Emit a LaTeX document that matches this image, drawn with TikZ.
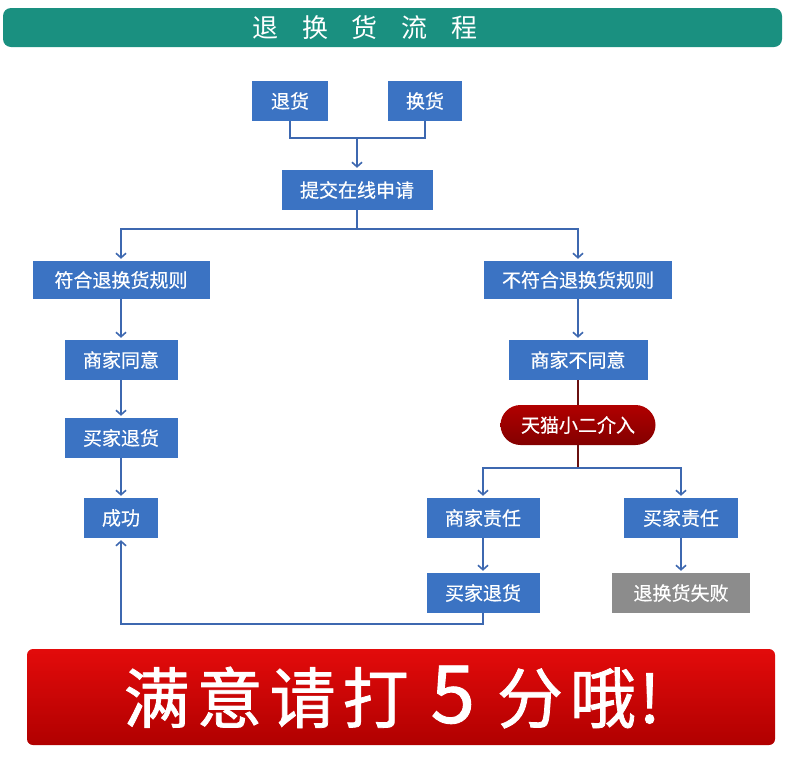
\documentclass[tikz,border=0pt]{standalone}
\usepackage{fontspec}
\setmainfont{Noto Sans CJK SC}
\newfontfamily\heavyfont[FakeBold=1.2]{Noto Sans CJK SC}
\newfontfamily\boxfont[FakeBold=0.5]{Noto Sans CJK SC}
\usepackage{xcolor}
\usepackage{tikz}
\usetikzlibrary{shapes,arrows.meta,positioning,calc}
\definecolor{boxblue}{HTML}{3B73C3}
\definecolor{lineblue}{HTML}{3D68B0}
\definecolor{teal}{HTML}{1A9080}
\definecolor{pillred}{HTML}{A30000}
\definecolor{darkline}{HTML}{6A1010}
\definecolor{failgray}{HTML}{8C8C8C}
\definecolor{bannertop}{HTML}{E30B0B}
\definecolor{bannerbottom}{HTML}{B00000}

\begin{document}
\begin{tikzpicture}[x=1pt,y=-1pt]
	\tikzset{font=\fontsize{19}{21}\boxfont,text=white}

	\tikzset{box/.style = {shape=rectangle,fill=boxblue,inner sep=0pt,minimum height=40pt}}

	\tikzset{pill/.style = {shape=rectangle,rounded corners=20pt,top color=pillred!85!red,bottom color=pillred!80!black,inner sep=0pt,minimum height=40pt,minimum width=155pt}}

	\tikzset{link/.style = {draw=lineblue,line width=1.8pt}}

	\tikzset{arrow/.style = {link,-{Straight Barb[length=4.5pt,width=10pt,line width=1.6pt]},shorten >=2pt}}

	\useasboundingbox (0,0) rectangle (790,756);

	% title and banner
	\fill[teal,rounded corners=8pt] (3,8) rectangle (782,47);
	\node[font=\fontsize{26}{28}\rmfamily] (title) at (365,28) {退\hspace{24pt}换\hspace{24pt}货\hspace{24pt}流\hspace{24pt}程};
	\shade[top color=bannertop,bottom color=bannerbottom,rounded corners=6pt] (27,649) rectangle (775,745);
	\node[font=\fontsize{66}{68}\heavyfont] (slogan) at (392,697) {满\hspace{7pt}意\hspace{7pt}请\hspace{7pt}打\hspace{22pt}{\fontsize{80}{80}\selectfont 5}\hspace{22pt}分\hspace{7pt}哦\hspace{3pt}!};

	% vertices
	\node[box,minimum width=76pt] (th) at (290,101) {退货};
	\node[box,minimum width=74pt] (hh) at (425,101) {换货};
	\node[box,minimum width=151pt] (apply) at (357,190) {提交在线申请};
	\node[box,minimum width=177pt,minimum height=38pt] (ok) at (121,280) {符合退换货规则};
	\node[box,minimum width=188pt,minimum height=38pt] (nok) at (578,280) {不符合退换货规则};
	\node[box,minimum width=113pt] (agree) at (121,360) {商家同意};
	\node[box,minimum width=139pt] (disagree) at (578,360) {商家不同意};
	\node[box,minimum width=113pt] (ret1) at (121,438) {买家退货};
	\node[pill] (tmall) at (578,425) {天猫小二介入};
	\node[box,minimum width=74pt] (done) at (121,518) {成功};
	\node[box,minimum width=113pt] (seller) at (483,518) {商家责任};
	\node[box,minimum width=114pt] (buyer) at (681,518) {买家责任};
	\node[box,minimum width=113pt] (ret2) at (483,593) {买家退货};
	\node[box,fill=failgray,minimum width=138pt] (fail) at (681,593) {退换货失败};

	\coordinate (j1) at (357,138);
	\coordinate (j2) at (357,229);
	\coordinate (j3) at (578,468);

	%edges
	\draw[link] (th.south) |- (j1) -| (hh.south);
	\draw[arrow] (j1) -- (apply.north);
	\draw[link] (apply.south) -- (j2);
	\draw[arrow] (j2) -| (ok.north);
	\draw[arrow] (j2) -| (nok.north);
	\draw[arrow] (ok) -- (agree);
	\draw[arrow] (agree) -- (ret1);
	\draw[arrow] (ret1) -- (done);
	\draw[arrow] (nok) -- (disagree);
	\draw[link,draw=darkline] (disagree) -- (tmall);
	\draw[link,draw=darkline] (tmall.south) -- (j3);
	\draw[arrow] (j3) -| (seller.north);
	\draw[arrow] (j3) -| (buyer.north);
	\draw[arrow] (seller) -- (ret2);
	\draw[arrow] (buyer) -- (fail);
	\draw[arrow] (ret2.south) -- ++(0,11) -| (done.south);
\end{tikzpicture}
\end{document}
